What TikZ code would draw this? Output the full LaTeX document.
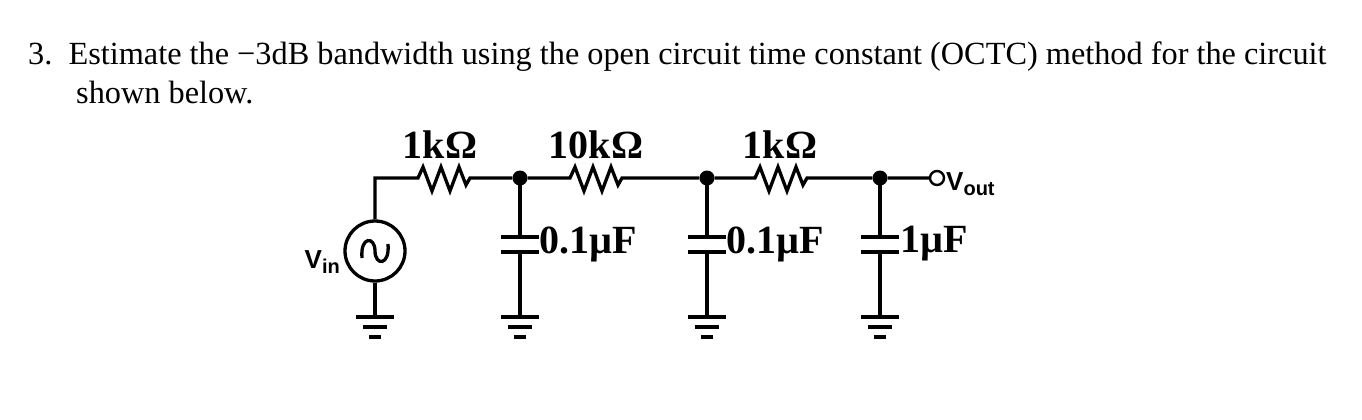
\documentclass[tikz,border=0pt]{standalone}
\usepackage{fontspec}
\setmainfont{Liberation Serif}
\newfontfamily\sansf{Liberation Sans}
\begin{document}
\begin{tikzpicture}[x=1pt,y=-1pt,
  w/.style={line width=3.3pt},
  dot/.style={circle,fill=black,inner sep=0pt,minimum size=15pt},
  lab/.style={font=\fontsize{40}{44}\selectfont\bfseries,inner sep=0pt},
  gnd/.pic={\draw[w] (-19,0)--(19,0); \draw[w] (-12,10)--(12,10); \draw[w] (-6,20)--(6,20);},
  cap/.pic={\draw[w] (-19,0)--(19,0); \draw[w] (-19,15)--(19,15);}]
\useasboundingbox (0,0) rectangle (1362,420);
\node[anchor=base west,inner sep=0pt,font=\fontsize{32.3}{36}\selectfont] (t1) at (28,64) {3.\hspace{0.5em}Estimate the −3dB bandwidth using the open circuit time constant (OCTC) method for the circuit};
\node[anchor=base west,inner sep=0pt,font=\fontsize{32.3}{36}\selectfont] (t2) at (76,103) {shown below.};
% nodes
\coordinate (s) at (375,178);
\node[dot] (n1) at (520,178) {};
\node[dot] (n2) at (707,178) {};
\node[dot] (n3) at (880,178) {};
\node[circle,draw,line width=3.3pt,minimum size=60pt,inner sep=0pt] (src) at (375,251) {};
\draw[w] (362,258) .. controls (360,236) and (375,236) .. (375,251) .. controls (375,266) and (390,266) .. (388,244);
\node[circle,draw,line width=2.4pt,minimum size=14pt,inner sep=0pt,fill=white] (out) at (937,178) {};
% wires with resistors
\draw[w] (src.north) -- (s) -- (418,178) -- (423,167) -- (432,191) -- (441,167) -- (450,191) -- (459,167) -- (466,185) -- (470,178) -- (n1);
\draw[w] (n1) -- (570,178) -- (575,167) -- (584,191) -- (593,167) -- (602,191) -- (611,167) -- (618,185) -- (622,178) -- (n2);
\draw[w] (n2) -- (755,178) -- (760,167) -- (769,191) -- (778,167) -- (787,191) -- (796,167) -- (803,185) -- (807,178) -- (n3) -- (out);
\node[lab] (r1) at (440,145) {1kΩ};
\node[lab] (r2) at (596,145) {10kΩ};
\node[lab] (r3) at (780,145) {1kΩ};
\node[anchor=west,inner sep=0pt,font=\sansf\fontsize{26}{28}\selectfont\bfseries] (vo) at (946,184) {V\raisebox{-0.35ex}{\fontsize{20}{20}\selectfont out}};
\node[anchor=east,inner sep=0pt,font=\sansf\fontsize{26}{28}\selectfont\bfseries] (vi) at (340,262) {V\raisebox{-0.35ex}{\fontsize{20}{20}\selectfont in}};
% source to ground
\draw[w] (src.south) -- (375,317);
\pic at (375,317) {gnd};
% capacitors
\foreach \x/\n in {520/1,707/2,880/3}{
  \draw[w] (\x,178) -- (\x,237);
  \pic at (\x,237) {cap};
  \draw[w] (\x,252) -- (\x,317);
  \pic at (\x,317) {gnd};
}
\node[lab,anchor=west] (c1) at (539,244) {0.1µF};
\node[lab,anchor=west] (c2) at (726,244) {0.1µF};
\node[lab,anchor=west] (c3) at (900,244) {1µF};
\end{tikzpicture}
\end{document}
